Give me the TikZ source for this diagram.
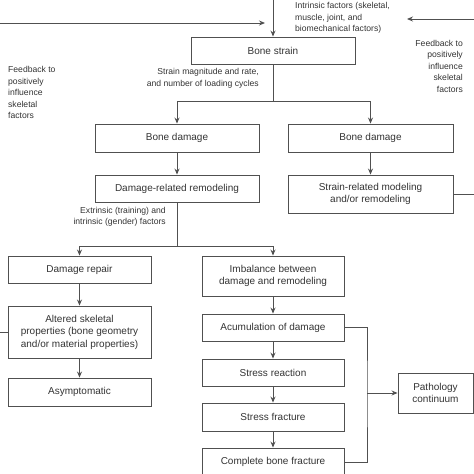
\documentclass[tikz,border=0pt]{standalone}
\usepackage{fontspec}
\setmainfont{Liberation Sans}
\usetikzlibrary{arrows.meta}
\definecolor{linec}{HTML}{505050}
\definecolor{txtc}{HTML}{333333}
\begin{document}
\begin{tikzpicture}[x=1pt,y=-1pt,
  box/.style={draw=linec,line width=0.9pt,inner sep=0pt,align=center,text=txtc,
    font=\fontsize{10}{12.5}\selectfont},
  note/.style={inner sep=0pt,text=txtc,font=\fontsize{8.6}{11.5}\selectfont},
  conn/.style={draw=linec,line width=0.9pt},
  arr/.style={conn,-{Stealth[length=6pt,width=5pt]}}]
\useasboundingbox (0,0) rectangle (474,474);
\clip (0,0) rectangle (474,474);
% boxes
\node[box,minimum width=164pt,minimum height=27pt] (bs) at (273,50.5) {Bone strain};
\node[box,minimum width=164pt,minimum height=28pt] (bd1) at (177,138) {Bone damage};
\node[box,minimum width=165pt,minimum height=28pt] (bd2) at (370.5,138) {Bone damage};
\node[box,minimum width=164pt,minimum height=27pt] (drr) at (177,188.5) {Damage-related remodeling};
\node[box,minimum width=165pt,minimum height=38pt] (srm) at (370.5,194) {Strain-related modeling\\and/or remodeling};
\node[box,minimum width=143pt,minimum height=27pt] (dr) at (79.5,269.5) {Damage repair};
\node[box,minimum width=142pt,minimum height=40pt] (imb) at (273,276) {Imbalance between\\damage and remodeling};
\node[box,minimum width=143pt,minimum height=52pt] (alt) at (79.5,332) {Altered skeletal\\properties (bone geometry\\and/or material properties)};
\node[box,minimum width=142pt,minimum height=27pt] (acc) at (273,327.5) {Acumulation of damage};
\node[box,minimum width=143pt,minimum height=28pt] (asy) at (79.5,392) {Asymptomatic};
\node[box,minimum width=142pt,minimum height=27pt] (sr) at (273,372.5) {Stress reaction};
\node[box,minimum width=142pt,minimum height=28pt] (sf) at (273,417) {Stress fracture};
\node[box,minimum width=142pt,minimum height=28pt] (cbf) at (273,462) {Complete bone fracture};
\node[box,minimum width=75pt,minimum height=40pt] (pc) at (435.5,393) {Pathology\\continuum};
% notes
\node[note,anchor=west,align=left] (nintr) at (295,18) {Intrinsic factors (skeletal,\\muscle, joint, and\\biomechanical factors)};
\node[note,anchor=east,align=right] (nfbr) at (463,66) {Feedback to\\positively\\influence\\skeletal\\factors};
\node[note,anchor=west,align=left] (nfbl) at (8,92.5) {Feedback to\\positively\\influence\\skeletal\\factors};
\node[note,anchor=east,align=right] (nstr) at (259,78.5) {Strain magnitude and rate,\\and number of loading cycles};
\node[note,anchor=east,align=right] (next) at (166,217) {Extrinsic (training) and\\intrinsic (gender) factors};
% coordinates
\coordinate (top) at (273,-5);
\coordinate (split1) at (273,101);
\coordinate (split2) at (177,246);
\coordinate (lfx) at (-6,23);
\coordinate (lftip) at (265,23);
\coordinate (rfx) at (480,19);
\coordinate (rftip) at (407,19);
\coordinate (pcx) at (367,393);
% connectors
\draw[arr] (top) -- (bs.north);
\draw[conn] (bs.south) -- (split1);
\draw[arr] (split1) -| (bd1.north);
\draw[arr] (split1) -| (bd2.north);
\draw[arr] (bd1) -- (drr);
\draw[arr] (bd2) -- (srm);
\draw[conn] (drr.south) -- (split2);
\draw[arr] (split2) -| (dr.north);
\draw[arr] (split2) -| (imb.north);
\draw[arr] (dr) -- (alt);
\draw[arr] (alt) -- (asy);
\draw[arr] (imb) -- (acc);
\draw[arr] (acc) -- (sr);
\draw[arr] (sr) -- (sf);
\draw[arr] (sf) -- (cbf);
\draw[conn] (acc.east) -| (pcx) |- (cbf.east);
\draw[arr] (pcx) -- (pc.west);
\draw[arr] (alt.west) -| (lfx) -- (lftip);
\draw[arr] (srm.east) -| (rfx) -- (rftip);
\end{tikzpicture}
\end{document}
